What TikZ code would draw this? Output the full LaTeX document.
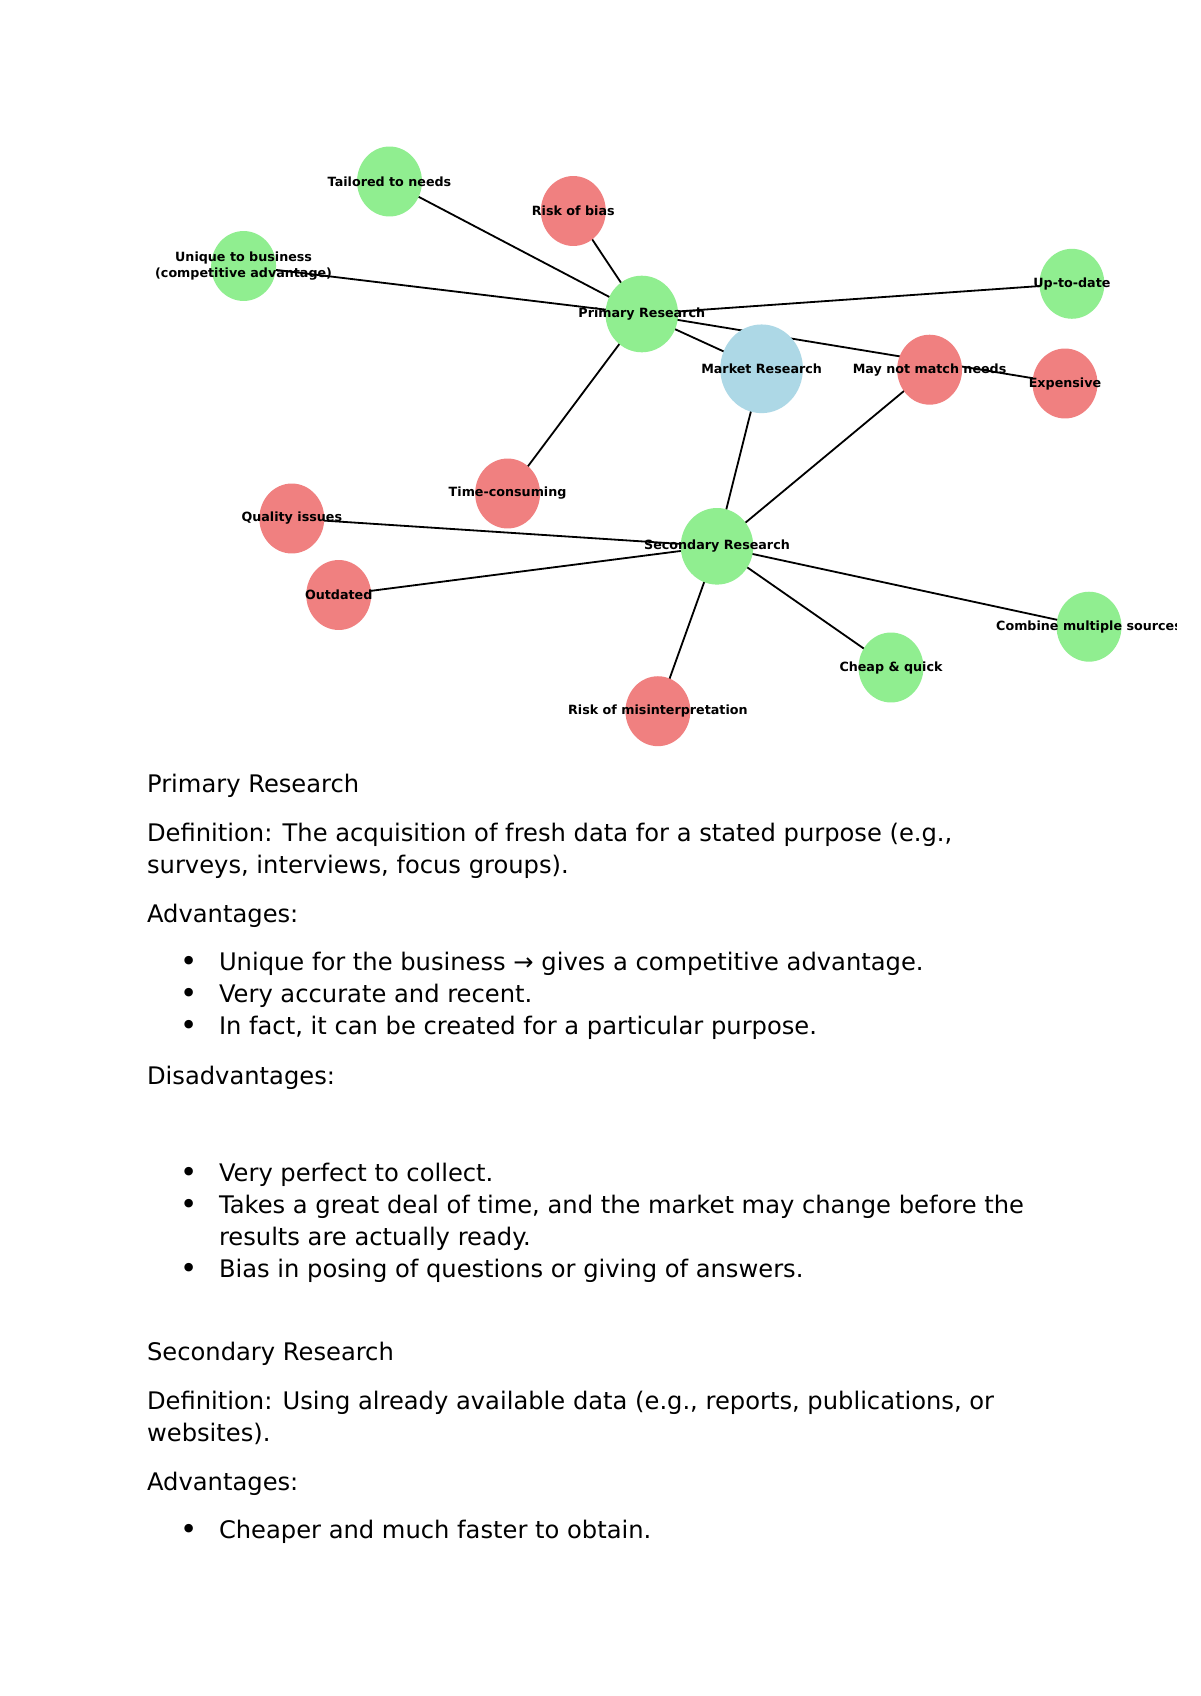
\documentclass[tikz,border=0pt]{standalone}
\usepackage{fontspec}
\setmainfont{DejaVu Sans}
\usetikzlibrary{shapes.geometric,backgrounds}
\definecolor{lgreen}{HTML}{90EE90}
\definecolor{lcoral}{HTML}{F08080}
\definecolor{lblue}{HTML}{ADD8E6}
\begin{document}
\begin{tikzpicture}[x=0.4961pt,y=-0.4961pt,
  gnode/.style={ellipse, inner sep=0pt, minimum width=32.2pt, minimum height=34.7pt},
  pro/.style={gnode, fill=lgreen},
  con/.style={gnode, fill=lcoral},
  hub/.style={gnode, fill=lgreen, minimum width=36pt, minimum height=38pt},
  root/.style={gnode, fill=lblue, minimum width=41pt, minimum height=44pt},
  lbl/.style={font=\fontsize{6.3}{7.9}\selectfont\bfseries, inner sep=0pt, align=center},
  edge/.style={line width=0.9pt, black},
  body/.style={anchor=base west, inner sep=0pt, font=\fontsize{12}{14}\selectfont},
  dot/.style={anchor=base west, inner sep=0pt, font=\fontsize{14.5}{16}\selectfont},
]
\useasboundingbox (0,0) rectangle (1200,1696);

% graph nodes
\begin{scope}
\clip (0,0) rectangle (1176,760);
\node[root, label={[lbl]center:Market Research}] (mkt) at (761.6,368.8) {};
\node[hub, label={[lbl]center:Primary Research}] (prim) at (641.8,314) {};
\node[hub, label={[lbl]center:Secondary Research}] (sec) at (717,546.3) {};
\node[pro, label={[lbl]center:Tailored to needs}] (tail) at (389.5,181.5) {};
\node[con, label={[lbl]center:Risk of bias}] (bias) at (573.3,211) {};
\node[pro, label={[lbl]center:Unique to business\\(competitive advantage)}] (uniq) at (243.6,266) {};
\node[pro, label={[lbl]center:Up-to-date}] (upto) at (1071.9,283.8) {};
\node[con, label={[lbl]center:May not match needs}] (maynot) at (929.6,369.7) {};
\node[con, label={[lbl]center:Expensive}] (expens) at (1065,383.5) {};
\node[con, label={[lbl]center:Time-consuming}] (timec) at (507.6,493.5) {};
\node[con, label={[lbl]center:Quality issues}] (qual) at (291.8,518.5) {};
\node[con, label={[lbl]center:Outdated}] (outd) at (338.7,595) {};
\node[con, label={[lbl]center:Risk of misinterpretation}] (misint) at (657.9,711.2) {};
\node[pro, label={[lbl]center:Cheap \& quick}] (cheap) at (891,667.5) {};
\node[pro, label={[lbl]center:Combine multiple sources}] (comb) at (1089,626.7) {};
\end{scope}

\begin{pgfonlayer}{background}
\fill[white] (0,0) rectangle (1200,1696);
\draw[edge] (mkt.center) -- (prim.center);
\draw[edge] (mkt.center) -- (sec.center);
\draw[edge] (prim.center) -- (tail.center);
\draw[edge] (prim.center) -- (bias.center);
\draw[edge] (prim.center) -- (uniq.center);
\draw[edge] (prim.center) -- (upto.center);
\draw[edge] (prim.center) -- (timec.center);
\draw[edge] (prim.center) -- (expens.center);
\draw[edge] (sec.center) -- (qual.center);
\draw[edge] (sec.center) -- (outd.center);
\draw[edge] (sec.center) -- (misint.center);
\draw[edge] (sec.center) -- (cheap.center);
\draw[edge] (sec.center) -- (comb.center);
\draw[edge] (sec.center) -- (maynot.center);
\end{pgfonlayer}

% text
\node[body] (t1) at (146.7,792) {Primary Research};
\node[body] (t2) at (146.7,841) {Definition: The acquisition of fresh data for a stated purpose (e.g.,};
\node[body] (t3) at (146.7,873) {surveys, interviews, focus groups).};
\node[body] (t4) at (146.7,922) {Advantages:};
\node[dot] (b1) at (180,971.5) {•};
\node[body] (t5) at (218.6,970.5) {Unique for the business → gives a competitive advantage.};
\node[dot] (b2) at (180,1003.5) {•};
\node[body] (t6) at (218.6,1002.5) {Very accurate and recent.};
\node[dot] (b3) at (180,1035.5) {•};
\node[body] (t7) at (218.6,1034.5) {In fact, it can be created for a particular purpose.};
\node[body] (t8) at (146.7,1084) {Disadvantages:};
\node[dot] (b4) at (180,1182.5) {•};
\node[body] (t9) at (218.6,1181.5) {Very perfect to collect.};
\node[dot] (b5) at (180,1214.5) {•};
\node[body] (t10) at (218.6,1213.5) {Takes a great deal of time, and the market may change before the};
\node[body] (t11) at (218.6,1245.5) {results are actually ready.};
\node[dot] (b6) at (180,1278.5) {•};
\node[body] (t12) at (218.6,1277.5) {Bias in posing of questions or giving of answers.};
\node[body] (t13) at (146.7,1360) {Secondary Research};
\node[body] (t14) at (146.7,1409) {Definition: Using already available data (e.g., reports, publications, or};
\node[body] (t15) at (146.7,1441) {websites).};
\node[body] (t16) at (146.7,1490) {Advantages:};
\node[dot] (b7) at (180,1539.5) {•};
\node[body] (t17) at (218.6,1538.5) {Cheaper and much faster to obtain.};
\end{tikzpicture}
\end{document}
